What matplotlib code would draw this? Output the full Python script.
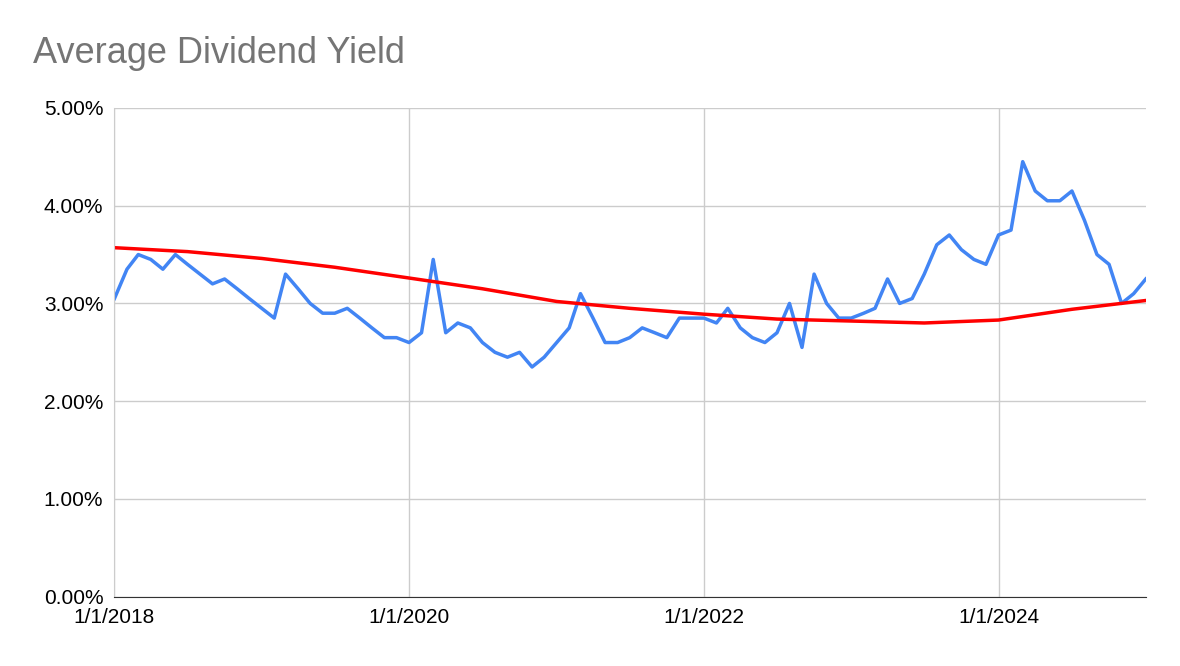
import numpy as np
import pandas as pd
import matplotlib.pyplot as plt
import matplotlib.dates as mdates
from matplotlib.ticker import FuncFormatter

plt.rcParams['font.family'] = ['Liberation Sans', 'DejaVu Sans']

# monthly readings of the average dividend yield (%)
months = pd.date_range("2018-01-01", "2024-12-01", freq="MS").append(pd.DatetimeIndex(["2024-12-31"]))
yield_pct = [
    3.05, 3.35, 3.5, 3.45, 3.35, 3.5, 3.4, 3.3, 3.2, 3.25, 3.15, 3.05,
    2.95, 2.85, 3.3, 3.15, 3.0, 2.9, 2.9, 2.95, 2.85, 2.75, 2.65, 2.65,
    2.6, 2.7, 3.45, 2.7, 2.8, 2.75, 2.6, 2.5, 2.45, 2.5, 2.35, 2.45,
    2.6, 2.75, 3.1, 2.85, 2.6, 2.6, 2.65, 2.75, 2.7, 2.65, 2.85, 2.85,
    2.85, 2.8, 2.95, 2.75, 2.65, 2.6, 2.7, 3.0, 2.55, 3.3, 3.0, 2.85,
    2.85, 2.9, 2.95, 3.25, 3.0, 3.05, 3.3, 3.6, 3.7, 3.55, 3.45, 3.4,
    3.7, 3.75, 4.45, 4.15, 4.05, 4.05, 4.15, 3.85, 3.5, 3.4, 3.0, 3.1, 3.25,
]

# trend line readings
trend_dates = pd.to_datetime(["2018-01-01", "2018-07-01", "2019-01-01", "2019-07-01", "2020-01-01",
                              "2020-07-01", "2021-01-01", "2021-07-01", "2022-01-01", "2022-07-01",
                              "2023-01-01", "2023-07-01", "2024-01-01", "2024-07-01", "2024-12-31"])
trend_pct = [3.57, 3.53, 3.46, 3.37, 3.26, 3.15, 3.02, 2.95, 2.89, 2.84, 2.82, 2.80, 2.83, 2.94, 3.03]

fig = plt.figure(figsize=(11.8, 6.66), dpi=100)
ax = fig.add_axes([0.097, 0.104, 0.874, 0.734])
ax.plot(months, yield_pct, color="#4285f4", lw=2.5)
ax.plot(trend_dates, trend_pct, color="#ff0000", lw=2.5)

ax.set_xlim(pd.Timestamp("2018-01-01"), pd.Timestamp("2024-12-31"))
ax.set_ylim(0, 5)
ax.set_yticks(np.arange(0, 5.01, 1))
ax.yaxis.set_major_formatter(FuncFormatter(lambda v, p: f"{v:.2f}%"))
ax.set_xticks(pd.to_datetime(["2018-01-01", "2020-01-01", "2022-01-01", "2024-01-01"]))
ax.xaxis.set_major_formatter(FuncFormatter(lambda v, p: f"1/1/{mdates.num2date(v).year}"))
ax.grid(color="#cccccc", lw=1)
ax.set_axisbelow(True)
for s in ["top", "right"]:
    ax.spines[s].set_visible(False)
ax.spines["left"].set_color("#cccccc")
ax.spines["bottom"].set_color("#333333")
ax.tick_params(length=0, labelsize=15, pad=8)
fig.text(0.028, 0.905, "Average Dividend Yield", fontsize=26, color="#757575")
fig.savefig("out.png")
